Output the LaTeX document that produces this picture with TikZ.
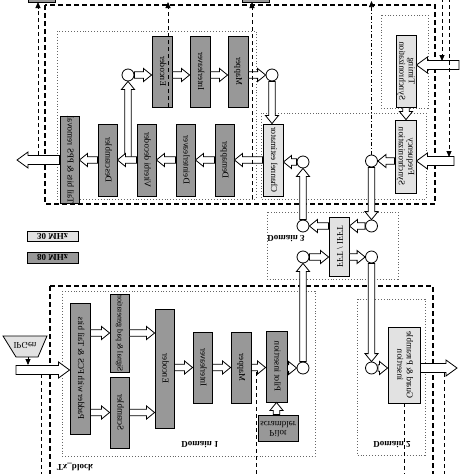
\documentclass[tikz,border=0pt]{standalone}
\usepackage{fontspec}
\setmainfont{Liberation Serif}
\usetikzlibrary{calc,arrows.meta}
\definecolor{dk}{RGB}{152,152,152}
\definecolor{lt}{RGB}{226,226,226}
\newcommand\fs{\fontsize{9}{9.4}\selectfont}
\newcommand\ft[1]{\scalebox{1}[-1]{#1}}
\newcommand\vt[1]{\rotatebox{90}{\scalebox{1}[-1]{\begin{tabular}{@{}c@{}}#1\end{tabular}}}}
\newcommand\arrowgen[5]{%
  \coordinate (bA) at (#4); \coordinate (bB) at (#5);
  \coordinate (bH) at ($(bB)!#3!(bA)$);
  \draw[blk] ($(bA)!#1!90:(bB)$) -- ($(bH)!#1!90:(bB)$) -- ($(bH)!#2!90:(bB)$) -- (bB)
    -- ($(bH)!#2!-90:(bB)$) -- ($(bH)!#1!-90:(bB)$) -- ($(bA)!#1!-90:(bB)$) -- cycle;}
\newcommand\barrow[2]{\arrowgen{3.3pt}{6.5pt}{8pt}{#1}{#2}}
\newcommand\Barrow[2]{\arrowgen{4.5pt}{8pt}{11pt}{#1}{#2}}
\begin{document}
\begin{tikzpicture}[x=1pt,y=-1pt,
  every node/.append style={font=\fs},
  sz/.style 2 args={minimum width=#1pt,minimum height=#2pt},
  bx/.style={draw,line width=0.9pt,inner sep=0pt,align=center},
  dkb/.style={bx,fill=dk},
  ltb/.style={bx,fill=lt},
  cir/.style={circle,draw,fill=white,line width=0.8pt,minimum size=12pt,inner sep=0pt},
  blk/.style={draw=black,fill=white,line width=0.8pt,line join=miter},
  dom/.style={draw=black!60,dotted,line width=0.9pt},
  border/.style={draw,line width=1.3pt,dash pattern=on 5pt off 3pt},
  ctl/.style={line width=0.9pt,dash pattern=on 4pt off 3pt},
  ctlt/.style={line width=0.6pt,dash pattern=on 4pt off 2pt on 1pt off 2pt},
  tip/.style={-{Triangle[length=6pt,width=5pt]}},
  lab/.style={font=\fs\bfseries}]
\useasboundingbox (0,0) rectangle (474,474);
\clip (0,0) rectangle (474,474);
% regions
\draw[border] (45,5) rectangle (435,204);
\draw[dom] (57,31) rectangle (256,199);
\draw[dom] (261,113) rectangle (426,199);
\draw[dom] (381,15) rectangle (428,108);
\draw[dom] (267,212) rectangle (398,279);
\draw[border] (50,286) -- (50,480) (50,286) -- (433,286) -- (433,480);
\draw[dom] (62,291) rectangle (315,456);
\draw[dom] (357,299) rectangle (425,455);
% top partial boxes
\node[dkb,sz={27}{10}] (tb1) at (41.5,-3) {};
\node[dkb,sz={27}{10}] (tb2) at (255.5,-3) {};
% Rx boxes
\node[dkb,sz={20}{71}] (enc2) at (162,71.5) {\vt{Encoder}};
\node[dkb,sz={20}{71}] (int2) at (200,71.5) {\vt{Interleaver}};
\node[dkb,sz={20}{71}] (map2) at (238,71.5) {\vt{Mapper}};
\node[dkb,sz={19}{72}] (fcsR) at (69.5,160) {\vt{Tail bits \& PPS removal}};
\node[dkb,sz={19}{72}] (desc) at (107.5,160) {\vt{Descrambler}};
\node[dkb,sz={19}{72}] (vit) at (146.5,160) {\vt{Viterbi decoder}};
\node[dkb,sz={19}{72}] (deint) at (185.5,160) {\vt{Deinterleaver}};
\node[dkb,sz={19}{72}] (demap) at (224.5,160) {\vt{Demapper}};
\node[ltb,sz={20}{72}] (chest) at (273,160) {\vt{Channel estimator}};
\node[ltb,sz={20}{72}] (tsync) at (406,71) {\vt{Timing\\Synchronization}};
\node[ltb,sz={21}{73}] (fsync) at (405.5,156.5) {\vt{Frequency\\Synchronization}};
\node[ltb,sz={20}{59}] (fft) at (339,246.5) {\vt{FFT / IFFT}};
% Tx boxes
\node[dkb,sz={20}{131}] (pad) at (80,368.5) {\vt{Padder with FCS \& Tail bits}};
\node[dkb,sz={19}{78},font=\fontsize{8}{9}\selectfont] (sig) at (119.5,333) {\vt{Signal \& pad generation}};
\node[dkb,sz={19}{71}] (scr) at (119.5,412.5) {\vt{Scrambler}};
\node[dkb,sz={19}{119}] (enc) at (164.5,368.5) {\vt{Encoder}};
\node[dkb,sz={19}{71}] (int) at (202.5,367.5) {\vt{Interleaver}};
\node[dkb,sz={20}{71}] (map) at (241,367.5) {\vt{Mapper}};
\node[dkb,sz={21}{71}] (pil) at (276.5,366.5) {\vt{Pilot insertion}};
\node[dkb,sz={40}{26}] (pscr) at (278,428) {\ft{\begin{tabular}{@{}c@{}}Pilot\\scrambler\end{tabular}}};
\node[ltb,sz={32}{76}] (guard) at (404,365) {\vt{Guard \& Preamble\\insertion}};
% legend and labels
\node[bx,fill=lt,sz={51}{10}] (l30) at (52.5,236) {\ft{\bfseries 30 MHz}};
\node[bx,fill=dk,sz={51}{11}] (l80) at (52.5,257.5) {\ft{\bfseries 80 MHz}};
\node[lab] (d1) at (200,445) {\ft{Domain 1}};
\node[lab] (d2) at (392,445) {\ft{Domain 2}};
\node[lab] (d3) at (286,239) {\ft{Domain 3}};
\node[lab] (txb) at (75,467) {\ft{Tx\_block}};
% IPGen
\draw[fill=lt,line width=0.8pt] (3,336) -- (47,336) -- (38,357) -- (16,357) -- cycle;
\node (ipg) at (25,345.5) {\ft{IPGen}};
% circles
\node[cir] (cR1) at (128,75) {};
\node[cir] (cR2) at (272,75) {};
\node[cir] (cCE) at (303,162) {};
\node[cir] (cFS) at (371.5,161) {};
\node[cir] (cD1) at (303,226) {};
\node[cir] (cD2) at (371.5,226) {};
\node[cir] (cD3) at (303,257) {};
\node[cir] (cD4) at (371.5,257) {};
\node[cir] (cP) at (303,368) {};
\node[cir] (cG) at (371.5,368) {};
% Rx arrows
\barrow{cR1.east}{enc2.west |- cR1.east}
\barrow{enc2.east |- cR1.east}{int2.west |- cR1.east}
\barrow{int2.east |- cR1.east}{map2.west |- cR1.east}
\barrow{map2.east |- cR2.west}{cR2.west}
\barrow{cR2.south}{cR2.south |- chest.north}
\coordinate (jn) at (128,160);
\barrow{jn}{cR1.south}
\barrow{chest.west}{demap.east}
\barrow{demap.west}{deint.east}
\barrow{deint.west}{vit.east}
\barrow{vit.west}{desc.east}
\barrow{desc.west}{fcsR.east}
\coordinate (rxout) at (17,160);
\Barrow{fcsR.west}{rxout}
\barrow{tsync.south}{tsync.south |- fsync.north}
\coordinate (tin) at (459,65);
\Barrow{tin}{tsync.east |- tin}
\coordinate (fin) at (454,161);
\Barrow{fin}{fsync.east |- fin}
\barrow{fsync.west |- cFS.east}{cFS.east}
\barrow{cCE.west}{chest.east |- cCE.west}
\barrow{cD1.north}{cCE.south}
\barrow{cFS.south}{cD2.north}
\barrow{cD2.west}{fft.east |- cD2.west}
\barrow{fft.west |- cD1.east}{cD1.east}
\barrow{cD3.east}{fft.west |- cD3.east}
\barrow{fft.east |- cD4.west}{cD4.west}
\barrow{cP.north}{cD3.south}
\barrow{cD4.south}{cG.north}
\barrow{cG.east}{guard.west |- cG.east}
\coordinate (txout) at (457,368);
\Barrow{guard.east |- txout}{txout}
% Tx arrows
\coordinate (txin) at (16,370);
\Barrow{txin}{pad.west |- txin}
\barrow{pad.east |- sig.west}{sig.west}
\barrow{pad.east |- scr.west}{scr.west}
\barrow{sig.east}{enc.west |- sig.east}
\barrow{scr.east}{enc.west |- scr.east}
\barrow{enc.east |- int.west}{int.west}
\barrow{int.east}{map.west}
\barrow{map.east}{pil.west |- map.east}
\barrow{pil.east |- cP.west}{cP.west}
\barrow{pscr.north -| pil.south}{pil.south}
\coordinate (ipgb) at (28,357);
\coordinate (ipge) at (28,365);
\draw[tip,line width=0.8pt] (ipgb) -- (ipge);
% control lines
\coordinate (k1a) at (38,155); \coordinate (k1b) at (38,2);
\draw[ctl,tip] (k1a) -- (k1b);
\coordinate (k2a) at (168,107); \coordinate (k2b) at (168,2);
\draw[ctl,tip] (k2a) -- (k2b);
\coordinate (k3a) at (252,199); \coordinate (k3b) at (252,2);
\draw[ctl,tip] (k3a) -- (k3b);
\coordinate (k4b) at (371.5,1);
\draw[ctlt,tip] (cFS.north) -- (k4b);
\coordinate (k5a) at (442,-2); \coordinate (k5b) at (442,61);
\draw[ctl,tip] (k5a) -- (k5b);
\coordinate (k6a) at (449,-2); \coordinate (k6b) at (449,157);
\draw[ctl,tip] (k6a) -- (k6b);
\coordinate (k7a) at (41,374); \coordinate (k7b) at (41,480);
\draw[ctl] (k7a) -- (k7b);
\coordinate (k8a) at (256,372); \coordinate (k8b) at (256,480);
\draw[ctl] (k8a) -- (k8b);
\coordinate (k9b) at (404,480);
\draw[ctl] (guard.south) -- (k9b);
\coordinate (k10a) at (444,373); \coordinate (k10b) at (444,480);
\draw[ctl] (k10a) -- (k10b);
\end{tikzpicture}
\end{document}
